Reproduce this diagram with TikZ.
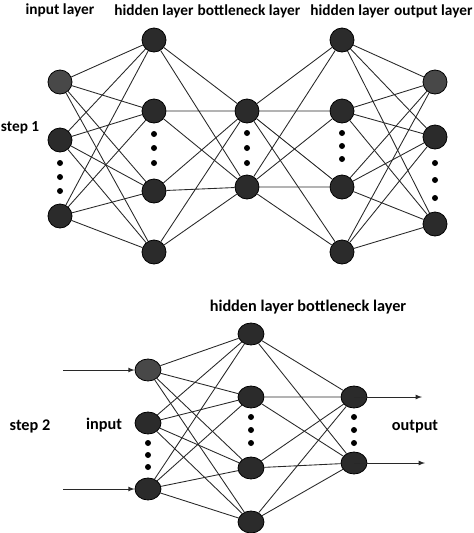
\documentclass[tikz,border=0pt]{standalone}
\usepackage{fontspec}
\setmainfont{Carlito}
\usetikzlibrary{shapes.geometric,arrows}

\tikzset{every picture/.style={line width=0.75pt}}
\tikzset{
  neuron/.style={circle,draw=black,line width=0.6pt,fill={rgb, 255:red, 43; green, 43; blue, 43 },minimum size=18pt,inner sep=0pt},
  grayneuron/.style={neuron,fill={rgb, 255:red, 72; green, 72; blue, 72 }},
  cell/.style={ellipse,draw=black,line width=0.6pt,fill={rgb, 255:red, 43; green, 43; blue, 43 },minimum width=19.5pt,minimum height=16.5pt,inner sep=0pt},
  graycell/.style={cell,fill={rgb, 255:red, 72; green, 72; blue, 72 }},
  wire/.style={color={rgb, 255:red, 40; green, 40; blue, 40 },line width=0.65pt},
  lbl/.style={inner sep=0.75pt,font=\bfseries\fontsize{11.5}{13}\selectfont},
  biglbl/.style={lbl,font=\bfseries\fontsize{12.2}{14}\selectfont},
}

\begin{document}
\begin{tikzpicture}[x=0.75pt,y=0.75pt,yscale=-1,xscale=1]
\path[use as bounding box] (0,0) rectangle (474,533);

%%%%%%%%%% step 1
%Shape: Circle input layer
\draw (60,82) node [grayneuron] (i1) {};
\draw (60,140) node [neuron] (i2) {};
\draw (60,216) node [neuron] (i3) {};
%Shape: Circle hidden layer
\draw (154,40) node [neuron] (h1) {};
\draw (154,111) node [neuron] (h2) {};
\draw (154,191) node [neuron] (h3) {};
\draw (154,252) node [neuron] (h4) {};
%Shape: Circle bottleneck layer
\draw (247,111) node [neuron] (b1) {};
\draw (247,187) node [neuron] (b2) {};
%Shape: Circle hidden layer
\draw (342,40) node [neuron] (k1) {};
\draw (342,111) node [neuron] (k2) {};
\draw (342,187) node [neuron] (k3) {};
\draw (342,252) node [neuron] (k4) {};
%Shape: Circle output layer
\draw (435,82) node [grayneuron] (o1) {};
\draw (435,137) node [neuron] (o2) {};
\draw (435,224) node [neuron] (o3) {};

%Straight Lines input -> hidden
\draw [wire] (i1) -- (h1) (i1) -- (h2) (i1) -- (h3) (i1) -- (h4) ;
\draw [wire] (i2) -- (h1) (i2) -- (h2) (i2) -- (h3) (i2) -- (h4) ;
\draw [wire] (i3) -- (h1) (i3) -- (h2) (i3) -- (h3) (i3) -- (h4) ;
%Straight Lines hidden -> bottleneck
\draw [wire] (h1) -- (b1) (h1) -- (b2) (h2) -- (b1) (h2) -- (b2) ;
\draw [wire] (h3) -- (b1) (h3) -- (b2) (h4) -- (b1) (h4) -- (b2) ;
%Straight Lines bottleneck -> hidden
\draw [wire] (b1) -- (k1) (b1) -- (k2) (b1) -- (k3) (b1) -- (k4) ;
\draw [wire] (b2) -- (k1) (b2) -- (k2) (b2) -- (k3) (b2) -- (k4) ;
%Straight Lines hidden -> output
\draw [wire] (k1) -- (o1) (k1) -- (o2) (k1) -- (o3) ;
\draw [wire] (k2) -- (o1) (k2) -- (o2) (k2) -- (o3) ;
\draw [wire] (k3) -- (o1) (k3) -- (o2) (k3) -- (o3) ;
\draw [wire] (k4) -- (o1) (k4) -- (o2) (k4) -- (o3) ;

%Dots
\fill (60,163) circle (3) (60,177) circle (3) (60,191) circle (3) ;
\fill (154,134) circle (3) (154,148) circle (3) (154,163) circle (3) ;
\fill (247,133) circle (3) (247,148) circle (3) (247,163) circle (3) ;
\fill (342,133) circle (3) (342,146) circle (3) (342,159) circle (3) ;
\fill (435,163) circle (3) (435,180) circle (3) (435,198) circle (3) ;

% Text Node
\draw (60,10) node [lbl] (t1) {input layer};
% Text Node
\draw (154,11) node [lbl] (t2) {hidden layer};
% Text Node
\draw (249,11) node [lbl] (t3) {bottleneck layer};
% Text Node
\draw (350,11) node [lbl] (t4) {hidden layer};
% Text Node
\draw (473,11) node [lbl,anchor=east,inner sep=0pt] (t5) {output layer};
% Text Node
\draw (0.5,128) node [lbl,anchor=west,inner sep=0pt] (t6) {step 1};

%%%%%%%%%% step 2
%Shape: Ellipse input
\draw (148,370) node [graycell] (p1) {};
\draw (148,423) node [cell] (p2) {};
\draw (148,489) node [cell] (p3) {};
%Shape: Ellipse hidden layer
\draw (251,334) node [cell] (q1) {};
\draw (251,397) node [cell] (q2) {};
\draw (251,468) node [cell] (q3) {};
\draw (251,522) node [cell] (q4) {};
%Shape: Ellipse bottleneck layer
\draw (354,397) node [cell] (r1) {};
\draw (354,463) node [cell] (r2) {};

%Straight Lines input -> hidden
\draw [wire] (p1) -- (q1) (p1) -- (q2) (p1) -- (q3) (p1) -- (q4) ;
\draw [wire] (p2) -- (q1) (p2) -- (q2) (p2) -- (q3) (p2) -- (q4) ;
\draw [wire] (p3) -- (q1) (p3) -- (q2) (p3) -- (q3) (p3) -- (q4) ;
%Straight Lines hidden -> bottleneck
\draw [wire] (q1) -- (r1) (q1) -- (r2) (q2) -- (r1) (q2) -- (r2) ;
\draw [wire] (q3) -- (r1) (q3) -- (r2) (q4) -- (r1) (q4) -- (r2) ;

%Arrows in and out
\coordinate (in1) at (63,370) ;
\coordinate (in2) at (63,489) ;
\coordinate (out1) at (422,397) ;
\coordinate (out2) at (425,463) ;
\draw [wire,-latex] (in1) -- (p1) ;
\draw [wire,-latex] (in2) -- (p3) ;
\draw [wire,-latex] (r1.center) -- (out1) ;
\draw [wire,-latex] (r2.center) -- (out2) ;

%Dots
\fill (148,443) circle (3) (148,455) circle (3) (148,467) circle (3) ;
\fill (251,417) circle (3) (251,430) circle (3) (251,443) circle (3) ;
\fill (354,417) circle (3) (354,430) circle (3) (354,443) circle (3) ;

% Text Node
\draw (308,307) node [biglbl] (t7) {hidden layer bottleneck layer};
% Text Node
\draw (30,426) node [biglbl] (t8) {step 2};
% Text Node
\draw (104,425) node [biglbl] (t9) {input};
% Text Node
\draw (415,427) node [biglbl] (t10) {output};

\end{tikzpicture}
\end{document}
